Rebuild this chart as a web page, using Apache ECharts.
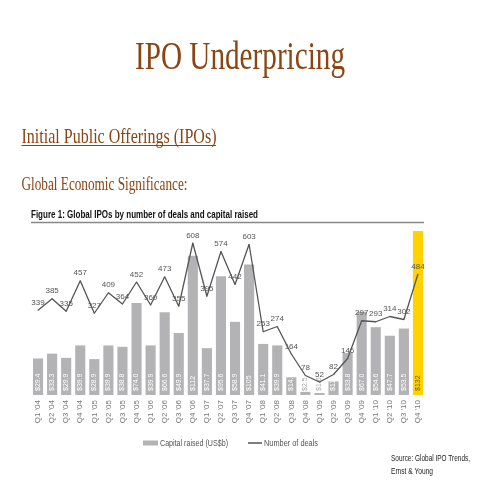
<!DOCTYPE html>
<html>
<head>
<meta charset="utf-8">
<script src="https://cdn.jsdelivr.net/npm/echarts@6/dist/echarts.min.js"></script>
<style>
html,body{margin:0;padding:0;background:#fff;}
#chart{width:480px;height:480px;}
</style>
</head>
<body>
<div id="chart"></div>
<script>
const quarters = ["Q1 '04","Q2 '04","Q3 '04","Q4 '04","Q1 '05","Q2 '05","Q3 '05","Q4 '05","Q1 '06","Q2 '06","Q3 '06","Q4 '06","Q1 '07","Q2 '07","Q3 '07","Q4 '07","Q1 '08","Q2 '08","Q3 '08","Q4 '08","Q1 '09","Q2 '09","Q3 '09","Q4 '09","Q1 '10","Q2 '10","Q3 '10","Q4 '10"];
const capitalRaised = [29.4,33.3,29.9,39.9,28.9,39.9,38.8,74.0,39.9,66.6,49.9,112,37.7,95.6,58.9,105,41.1,39.9,14.3,2.5,1.6,11.0,33.8,67.0,54.6,47.7,53.5,132];
const numberOfDeals = [339,385,335,457,327,409,364,452,360,473,355,608,395,574,442,603,253,274,164,78,52,82,146,297,293,314,302,484];
const highlightIndex = 27;

const chart = echarts.init(document.getElementById('chart'));
const brown = '#8B4513';
const serif = '"Liberation Serif","DejaVu Serif",serif';
const sans = '"Liberation Sans","DejaVu Sans",sans-serif';
const narrow = '"Liberation Sans Narrow","Liberation Sans",sans-serif';

const ctx = document.createElement('canvas').getContext('2d');
function fit(text, font, width) {
  ctx.font = font;
  return width / ctx.measureText(text).width;
}
function txt(text, font, fill, x, y, width) {
  return { type: 'text', x: x, y: y, scaleX: fit(text, font, width), style: { text: text, font: font, fill: fill, textVerticalAlign: 'middle' } };
}

const barData = capitalRaised.map((v, i) => {
  const item = { value: v };
  if (i === highlightIndex) {
    item.itemStyle = { color: '#FFD200' };
    item.label = { color: '#6b5a00' };
  } else if (v < 5) {
    item.label = { color: '#aaa' };
  }
  return item;
});

const titleFont = '40px ' + serif;
chart.setOption({
  backgroundColor: '#fff',
  animation: false,
  graphic: [
    txt('IPO Underpricing', titleFont, brown, 135, 58, 210),
    txt('Initial Public Offerings (IPOs)', '22px ' + serif, brown, 21.5, 137, 195),
    { type: 'line', shape: { x1: 21.5, y1: 145.5, x2: 216, y2: 145.5 }, style: { stroke: brown, lineWidth: 1 } },
    txt('Global Economic Significance:', '19px ' + serif, brown, 21.5, 185, 166),
    txt('Figure 1: Global IPOs by number of deals and capital raised', 'bold 11px ' + sans, '#111', 31, 214.5, 227),
    { type: 'line', shape: { x1: 31, y1: 222.5, x2: 424, y2: 222.5 }, style: { stroke: '#888', lineWidth: 1.5 } },
    { type: 'rect', shape: { x: 143, y: 440.5, width: 15, height: 5 }, style: { fill: '#b3b3b5' } },
    txt('Capital raised (US$b)', '9.5px ' + sans, '#555', 160, 443, 68),
    { type: 'line', shape: { x1: 248, y1: 443, x2: 262, y2: 443 }, style: { stroke: '#555', lineWidth: 1.5 } },
    txt('Number of deals', '9.5px ' + sans, '#555', 264, 443, 54),
    txt('Source: Global IPO Trends,', '9.5px ' + sans, '#222', 391, 458, 79),
    txt('Ernst & Young', '9.5px ' + sans, '#222', 391, 471, 42)
  ],
  grid: { left: 31, right: 55, top: 231, bottom: 85 },
  xAxis: {
    type: 'category',
    data: quarters,
    axisLine: { show: false },
    axisTick: { show: false },
    axisLabel: { rotate: 90, fontSize: 8, color: '#777', margin: 5, fontFamily: sans, interval: 0 }
  },
  yAxis: [
    { type: 'value', min: 0, max: 132, show: false, splitLine: { show: false } },
    { type: 'value', min: 0, max: 656, show: false, splitLine: { show: false } }
  ],
  series: [
    {
      name: 'Capital raised (US$b)',
      type: 'bar',
      data: barData,
      yAxisIndex: 0,
      barWidth: '72%',
      itemStyle: { color: '#b3b3b5' },
      label: {
        show: true,
        position: 'insideBottom',
        rotate: 90,
        align: 'left',
        verticalAlign: 'middle',
        distance: 4,
        fontSize: 7,
        color: '#fff',
        fontFamily: sans,
        formatter: p => '$' + (p.value >= 100 ? Math.round(p.value) : p.value.toFixed(1))
      }
    },
    {
      name: 'Number of deals',
      type: 'line',
      data: numberOfDeals,
      yAxisIndex: 1,
      symbol: 'circle',
      symbolSize: 1,
      showSymbol: true,
      lineStyle: { color: '#555', width: 1.3 },
      itemStyle: { color: '#555' },
      label: { show: true, position: 'top', fontSize: 8, color: '#555', fontFamily: narrow, distance: 3 }
    }
  ]
});
</script>
</body>
</html>
